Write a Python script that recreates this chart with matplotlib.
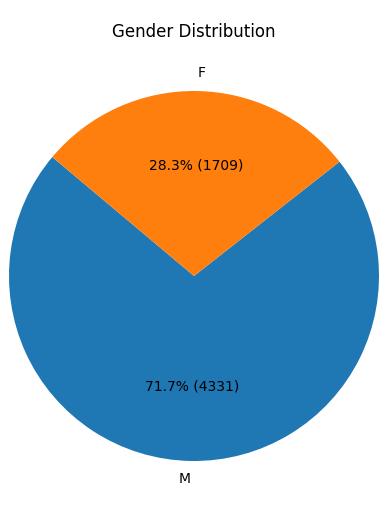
import matplotlib
matplotlib.use("Agg")
import matplotlib.pyplot as plt

labels = ["M", "F"]
counts = [4331, 1709]
colors = ["#1f77b4", "#ff7f0e"]

total = sum(counts)

def fmt(p):
    return f"{p:.1f}% ({int(round(p * total / 100))})"

fig = plt.figure(figsize=(3.91, 5.14), dpi=100)
ax = fig.add_axes([(194 - 185) / 391, (514 - 276 - 185) / 514, 370 / 391, 370 / 514])
ax.pie(counts, labels=labels, colors=colors, autopct=fmt, startangle=140)
ax.set_xlim(-1, 1)
ax.set_ylim(-1, 1)
ax.set_aspect("equal")
fig.text(193.5 / 391, 1 - 32 / 514, "Gender Distribution", ha="center", va="center", fontsize=12)
fig.savefig("out.png", dpi=100)
